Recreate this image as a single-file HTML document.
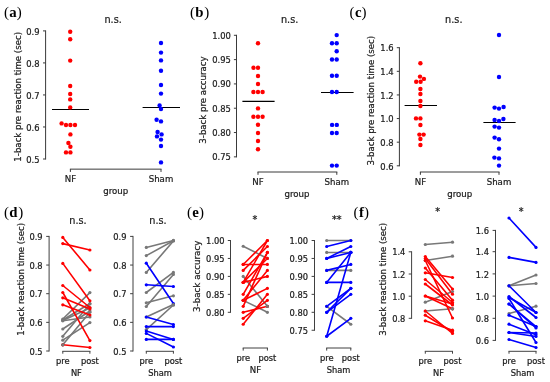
<!DOCTYPE html>
<html><head><meta charset="utf-8"><title>figure</title>
<style>
html,body{margin:0;padding:0;background:#fff;}
svg{display:block;}
.t{font-family:"DejaVu Sans","Liberation Sans",sans-serif;fill:#1c1c1c;stroke:#1c1c1c;stroke-width:0.22px;}
.p{font-family:"Liberation Serif","DejaVu Serif",serif;font-weight:bold;fill:#000;}
</style></head><body>
<svg width="550" height="382" viewBox="0 0 550 382">
<rect width="550" height="382" fill="#ffffff"/>
<text class="p" y="16.60"><tspan x="4.00" y="16.50" font-size="15" font-weight="normal">(</tspan><tspan x="9.30" y="16.60" font-size="14.8" font-weight="bold">a</tspan><tspan x="16.80" y="16.50" font-size="15" font-weight="normal">)</tspan></text>
<line x1="45.60" y1="30.40" x2="45.60" y2="159.50" stroke="#3a3a3a" stroke-width="1.0" stroke-linecap="butt"/>
<line x1="43.00" y1="30.90" x2="45.60" y2="30.90" stroke="#3a3a3a" stroke-width="1.0" stroke-linecap="butt"/>
<text class="t" x="39.50" y="34.50" text-anchor="end" font-size="8.4">0.9</text>
<line x1="43.00" y1="62.92" x2="45.60" y2="62.92" stroke="#3a3a3a" stroke-width="1.0" stroke-linecap="butt"/>
<text class="t" x="39.50" y="66.52" text-anchor="end" font-size="8.4">0.8</text>
<line x1="43.00" y1="94.95" x2="45.60" y2="94.95" stroke="#3a3a3a" stroke-width="1.0" stroke-linecap="butt"/>
<text class="t" x="39.50" y="98.55" text-anchor="end" font-size="8.4">0.7</text>
<line x1="43.00" y1="126.97" x2="45.60" y2="126.97" stroke="#3a3a3a" stroke-width="1.0" stroke-linecap="butt"/>
<text class="t" x="39.50" y="130.57" text-anchor="end" font-size="8.4">0.6</text>
<line x1="43.00" y1="159.00" x2="45.60" y2="159.00" stroke="#3a3a3a" stroke-width="1.0" stroke-linecap="butt"/>
<text class="t" x="39.50" y="162.60" text-anchor="end" font-size="8.4">0.5</text>
<line x1="69.90" y1="169.15" x2="161.50" y2="169.15" stroke="#3a3a3a" stroke-width="1.0" stroke-linecap="butt"/>
<line x1="70.40" y1="169.15" x2="70.40" y2="171.95" stroke="#3a3a3a" stroke-width="1.0" stroke-linecap="butt"/>
<text class="t" x="70.40" y="181.60" text-anchor="middle" font-size="8.6">NF</text>
<line x1="161.00" y1="169.15" x2="161.00" y2="171.95" stroke="#3a3a3a" stroke-width="1.0" stroke-linecap="butt"/>
<text class="t" x="161.00" y="181.60" text-anchor="middle" font-size="8.6">Sham</text>
<text class="t" x="115.70" y="193.70" text-anchor="middle" font-size="8.6">group</text>
<text class="t" x="20.60" y="96.80" text-anchor="middle" font-size="8.6" transform="rotate(-90 20.60 96.80)">1-back pre reaction time (sec)</text>
<text class="t" x="113.10" y="22.90" text-anchor="middle" font-size="9.7">n.s.</text>
<line x1="52.00" y1="109.50" x2="89.00" y2="109.50" stroke="#000" stroke-width="1.2" stroke-linecap="butt"/>
<line x1="142.60" y1="107.50" x2="180.00" y2="107.50" stroke="#000" stroke-width="1.2" stroke-linecap="butt"/>
<circle cx="70.20" cy="31.80" r="2.2" fill="#ff0000"/>
<circle cx="70.20" cy="39.20" r="2.2" fill="#ff0000"/>
<circle cx="70.20" cy="60.60" r="2.2" fill="#ff0000"/>
<circle cx="70.20" cy="86.00" r="2.2" fill="#ff0000"/>
<circle cx="70.20" cy="94.00" r="2.2" fill="#ff0000"/>
<circle cx="70.20" cy="99.40" r="2.2" fill="#ff0000"/>
<circle cx="70.20" cy="107.40" r="2.2" fill="#ff0000"/>
<circle cx="61.60" cy="123.40" r="2.2" fill="#ff0000"/>
<circle cx="66.00" cy="125.00" r="2.2" fill="#ff0000"/>
<circle cx="70.40" cy="125.00" r="2.2" fill="#ff0000"/>
<circle cx="75.00" cy="125.00" r="2.2" fill="#ff0000"/>
<circle cx="70.40" cy="134.40" r="2.2" fill="#ff0000"/>
<circle cx="68.40" cy="143.00" r="2.2" fill="#ff0000"/>
<circle cx="70.40" cy="146.80" r="2.2" fill="#ff0000"/>
<circle cx="66.00" cy="152.40" r="2.2" fill="#ff0000"/>
<circle cx="70.40" cy="152.40" r="2.2" fill="#ff0000"/>
<circle cx="161.00" cy="43.00" r="2.2" fill="#0000ff"/>
<circle cx="161.00" cy="52.60" r="2.2" fill="#0000ff"/>
<circle cx="161.00" cy="60.40" r="2.2" fill="#0000ff"/>
<circle cx="161.00" cy="70.80" r="2.2" fill="#0000ff"/>
<circle cx="161.00" cy="85.00" r="2.2" fill="#0000ff"/>
<circle cx="161.00" cy="93.60" r="2.2" fill="#0000ff"/>
<circle cx="159.60" cy="105.40" r="2.2" fill="#0000ff"/>
<circle cx="161.00" cy="109.00" r="2.2" fill="#0000ff"/>
<circle cx="156.60" cy="119.80" r="2.2" fill="#0000ff"/>
<circle cx="161.00" cy="121.40" r="2.2" fill="#0000ff"/>
<circle cx="157.60" cy="132.00" r="2.2" fill="#0000ff"/>
<circle cx="161.60" cy="134.40" r="2.2" fill="#0000ff"/>
<circle cx="157.00" cy="136.40" r="2.2" fill="#0000ff"/>
<circle cx="161.00" cy="139.60" r="2.2" fill="#0000ff"/>
<circle cx="161.00" cy="146.00" r="2.2" fill="#0000ff"/>
<circle cx="161.00" cy="162.40" r="2.2" fill="#0000ff"/>
<text class="p" y="16.60"><tspan x="190.00" y="16.50" font-size="15" font-weight="normal">(</tspan><tspan x="195.30" y="16.60" font-size="14.8" font-weight="bold">b</tspan><tspan x="204.20" y="16.50" font-size="15" font-weight="normal">)</tspan></text>
<line x1="236.50" y1="34.80" x2="236.50" y2="157.35" stroke="#3a3a3a" stroke-width="1.0" stroke-linecap="butt"/>
<line x1="233.90" y1="35.30" x2="236.50" y2="35.30" stroke="#3a3a3a" stroke-width="1.0" stroke-linecap="butt"/>
<text class="t" x="230.80" y="38.60" text-anchor="end" font-size="8.4">1.00</text>
<line x1="233.90" y1="59.61" x2="236.50" y2="59.61" stroke="#3a3a3a" stroke-width="1.0" stroke-linecap="butt"/>
<text class="t" x="230.80" y="62.91" text-anchor="end" font-size="8.4">0.95</text>
<line x1="233.90" y1="83.92" x2="236.50" y2="83.92" stroke="#3a3a3a" stroke-width="1.0" stroke-linecap="butt"/>
<text class="t" x="230.80" y="87.22" text-anchor="end" font-size="8.4">0.90</text>
<line x1="233.90" y1="108.23" x2="236.50" y2="108.23" stroke="#3a3a3a" stroke-width="1.0" stroke-linecap="butt"/>
<text class="t" x="230.80" y="111.53" text-anchor="end" font-size="8.4">0.85</text>
<line x1="233.90" y1="132.54" x2="236.50" y2="132.54" stroke="#3a3a3a" stroke-width="1.0" stroke-linecap="butt"/>
<text class="t" x="230.80" y="135.84" text-anchor="end" font-size="8.4">0.80</text>
<line x1="233.90" y1="156.85" x2="236.50" y2="156.85" stroke="#3a3a3a" stroke-width="1.0" stroke-linecap="butt"/>
<text class="t" x="230.80" y="160.15" text-anchor="end" font-size="8.4">0.75</text>
<line x1="257.50" y1="172.00" x2="337.30" y2="172.00" stroke="#3a3a3a" stroke-width="1.0" stroke-linecap="butt"/>
<line x1="258.00" y1="172.00" x2="258.00" y2="174.80" stroke="#3a3a3a" stroke-width="1.0" stroke-linecap="butt"/>
<text class="t" x="258.00" y="184.80" text-anchor="middle" font-size="8.6">NF</text>
<line x1="336.80" y1="172.00" x2="336.80" y2="174.80" stroke="#3a3a3a" stroke-width="1.0" stroke-linecap="butt"/>
<text class="t" x="336.80" y="184.80" text-anchor="middle" font-size="8.6">Sham</text>
<text class="t" x="297.00" y="197.20" text-anchor="middle" font-size="8.6">group</text>
<text class="t" x="205.80" y="100.00" text-anchor="middle" font-size="8.6" transform="rotate(-90 205.80 100.00)">3-back pre accuracy</text>
<text class="t" x="289.60" y="22.90" text-anchor="middle" font-size="9.7">n.s.</text>
<line x1="242.40" y1="101.40" x2="274.60" y2="101.40" stroke="#000" stroke-width="1.2" stroke-linecap="butt"/>
<line x1="321.00" y1="92.50" x2="353.60" y2="92.50" stroke="#000" stroke-width="1.2" stroke-linecap="butt"/>
<circle cx="258.00" cy="43.20" r="2.2" fill="#ff0000"/>
<circle cx="253.50" cy="67.80" r="2.2" fill="#ff0000"/>
<circle cx="258.00" cy="67.80" r="2.2" fill="#ff0000"/>
<circle cx="258.00" cy="76.00" r="2.2" fill="#ff0000"/>
<circle cx="258.00" cy="84.00" r="2.2" fill="#ff0000"/>
<circle cx="253.40" cy="92.00" r="2.2" fill="#ff0000"/>
<circle cx="258.00" cy="92.00" r="2.2" fill="#ff0000"/>
<circle cx="262.60" cy="92.00" r="2.2" fill="#ff0000"/>
<circle cx="258.00" cy="108.40" r="2.2" fill="#ff0000"/>
<circle cx="253.40" cy="116.80" r="2.2" fill="#ff0000"/>
<circle cx="258.00" cy="116.80" r="2.2" fill="#ff0000"/>
<circle cx="262.60" cy="116.80" r="2.2" fill="#ff0000"/>
<circle cx="258.00" cy="124.80" r="2.2" fill="#ff0000"/>
<circle cx="258.00" cy="133.00" r="2.2" fill="#ff0000"/>
<circle cx="258.00" cy="141.00" r="2.2" fill="#ff0000"/>
<circle cx="258.00" cy="149.20" r="2.2" fill="#ff0000"/>
<circle cx="336.70" cy="35.10" r="2.2" fill="#0000ff"/>
<circle cx="332.00" cy="43.20" r="2.2" fill="#0000ff"/>
<circle cx="336.70" cy="43.20" r="2.2" fill="#0000ff"/>
<circle cx="336.70" cy="51.30" r="2.2" fill="#0000ff"/>
<circle cx="332.00" cy="59.50" r="2.2" fill="#0000ff"/>
<circle cx="336.70" cy="59.50" r="2.2" fill="#0000ff"/>
<circle cx="332.00" cy="75.80" r="2.2" fill="#0000ff"/>
<circle cx="336.70" cy="75.80" r="2.2" fill="#0000ff"/>
<circle cx="332.00" cy="92.00" r="2.2" fill="#0000ff"/>
<circle cx="336.70" cy="92.00" r="2.2" fill="#0000ff"/>
<circle cx="332.10" cy="124.90" r="2.2" fill="#0000ff"/>
<circle cx="336.80" cy="124.90" r="2.2" fill="#0000ff"/>
<circle cx="332.00" cy="133.00" r="2.2" fill="#0000ff"/>
<circle cx="336.70" cy="133.00" r="2.2" fill="#0000ff"/>
<circle cx="332.00" cy="165.60" r="2.2" fill="#0000ff"/>
<circle cx="336.70" cy="165.60" r="2.2" fill="#0000ff"/>
<text class="p" y="16.60"><tspan x="349.60" y="16.50" font-size="15" font-weight="normal">(</tspan><tspan x="354.90" y="16.60" font-size="14.8" font-weight="bold">c</tspan><tspan x="361.60" y="16.50" font-size="15" font-weight="normal">)</tspan></text>
<line x1="399.40" y1="47.20" x2="399.40" y2="166.30" stroke="#3a3a3a" stroke-width="1.0" stroke-linecap="butt"/>
<line x1="396.80" y1="47.70" x2="399.40" y2="47.70" stroke="#3a3a3a" stroke-width="1.0" stroke-linecap="butt"/>
<text class="t" x="393.70" y="51.40" text-anchor="end" font-size="8.4">1.6</text>
<line x1="396.80" y1="71.32" x2="399.40" y2="71.32" stroke="#3a3a3a" stroke-width="1.0" stroke-linecap="butt"/>
<text class="t" x="393.70" y="75.02" text-anchor="end" font-size="8.4">1.4</text>
<line x1="396.80" y1="94.94" x2="399.40" y2="94.94" stroke="#3a3a3a" stroke-width="1.0" stroke-linecap="butt"/>
<text class="t" x="393.70" y="98.64" text-anchor="end" font-size="8.4">1.2</text>
<line x1="396.80" y1="118.56" x2="399.40" y2="118.56" stroke="#3a3a3a" stroke-width="1.0" stroke-linecap="butt"/>
<text class="t" x="393.70" y="122.26" text-anchor="end" font-size="8.4">1.0</text>
<line x1="396.80" y1="142.18" x2="399.40" y2="142.18" stroke="#3a3a3a" stroke-width="1.0" stroke-linecap="butt"/>
<text class="t" x="393.70" y="145.88" text-anchor="end" font-size="8.4">0.8</text>
<line x1="396.80" y1="165.80" x2="399.40" y2="165.80" stroke="#3a3a3a" stroke-width="1.0" stroke-linecap="butt"/>
<text class="t" x="393.70" y="169.50" text-anchor="end" font-size="8.4">0.6</text>
<line x1="419.90" y1="172.00" x2="499.50" y2="172.00" stroke="#3a3a3a" stroke-width="1.0" stroke-linecap="butt"/>
<line x1="420.40" y1="172.00" x2="420.40" y2="174.80" stroke="#3a3a3a" stroke-width="1.0" stroke-linecap="butt"/>
<text class="t" x="420.40" y="184.80" text-anchor="middle" font-size="8.6">NF</text>
<line x1="499.00" y1="172.00" x2="499.00" y2="174.80" stroke="#3a3a3a" stroke-width="1.0" stroke-linecap="butt"/>
<text class="t" x="499.00" y="184.80" text-anchor="middle" font-size="8.6">Sham</text>
<text class="t" x="459.80" y="197.20" text-anchor="middle" font-size="8.6">group</text>
<text class="t" x="373.70" y="100.70" text-anchor="middle" font-size="8.6" transform="rotate(-90 373.70 100.70)">3-back pre reaction time (sec)</text>
<text class="t" x="453.80" y="22.90" text-anchor="middle" font-size="9.7">n.s.</text>
<line x1="404.60" y1="105.50" x2="437.00" y2="105.50" stroke="#000" stroke-width="1.2" stroke-linecap="butt"/>
<line x1="483.40" y1="122.50" x2="515.60" y2="122.50" stroke="#000" stroke-width="1.2" stroke-linecap="butt"/>
<circle cx="420.40" cy="63.30" r="2.2" fill="#ff0000"/>
<circle cx="420.00" cy="76.60" r="2.2" fill="#ff0000"/>
<circle cx="423.90" cy="78.90" r="2.2" fill="#ff0000"/>
<circle cx="416.20" cy="81.70" r="2.2" fill="#ff0000"/>
<circle cx="420.60" cy="81.80" r="2.2" fill="#ff0000"/>
<circle cx="420.40" cy="89.00" r="2.2" fill="#ff0000"/>
<circle cx="420.40" cy="94.00" r="2.2" fill="#ff0000"/>
<circle cx="420.40" cy="101.00" r="2.2" fill="#ff0000"/>
<circle cx="420.40" cy="106.00" r="2.2" fill="#ff0000"/>
<circle cx="416.00" cy="118.40" r="2.2" fill="#ff0000"/>
<circle cx="420.40" cy="118.40" r="2.2" fill="#ff0000"/>
<circle cx="420.40" cy="125.00" r="2.2" fill="#ff0000"/>
<circle cx="419.40" cy="134.60" r="2.2" fill="#ff0000"/>
<circle cx="423.60" cy="134.60" r="2.2" fill="#ff0000"/>
<circle cx="420.40" cy="139.00" r="2.2" fill="#ff0000"/>
<circle cx="420.40" cy="145.00" r="2.2" fill="#ff0000"/>
<circle cx="499.00" cy="35.00" r="2.2" fill="#0000ff"/>
<circle cx="499.00" cy="77.00" r="2.2" fill="#0000ff"/>
<circle cx="494.60" cy="107.60" r="2.2" fill="#0000ff"/>
<circle cx="499.00" cy="108.60" r="2.2" fill="#0000ff"/>
<circle cx="503.60" cy="107.00" r="2.2" fill="#0000ff"/>
<circle cx="494.60" cy="120.00" r="2.2" fill="#0000ff"/>
<circle cx="499.00" cy="121.00" r="2.2" fill="#0000ff"/>
<circle cx="503.40" cy="119.00" r="2.2" fill="#0000ff"/>
<circle cx="494.60" cy="126.60" r="2.2" fill="#0000ff"/>
<circle cx="499.00" cy="127.60" r="2.2" fill="#0000ff"/>
<circle cx="494.60" cy="137.60" r="2.2" fill="#0000ff"/>
<circle cx="499.00" cy="139.20" r="2.2" fill="#0000ff"/>
<circle cx="499.00" cy="148.60" r="2.2" fill="#0000ff"/>
<circle cx="494.40" cy="157.60" r="2.2" fill="#0000ff"/>
<circle cx="499.00" cy="158.40" r="2.2" fill="#0000ff"/>
<circle cx="499.00" cy="165.60" r="2.2" fill="#0000ff"/>
<text class="p" y="217.10"><tspan x="4.00" y="217.00" font-size="15" font-weight="normal">(</tspan><tspan x="9.30" y="217.10" font-size="14.8" font-weight="bold">d</tspan><tspan x="18.20" y="217.00" font-size="15" font-weight="normal">)</tspan></text>
<text class="t" x="24.00" y="279.40" text-anchor="middle" font-size="8.6" transform="rotate(-90 24.00 279.40)">1-back reaction time (sec)</text>
<line x1="49.10" y1="235.90" x2="49.10" y2="351.50" stroke="#404040" stroke-width="1.0" stroke-linecap="butt"/>
<line x1="46.20" y1="236.40" x2="49.10" y2="236.40" stroke="#404040" stroke-width="1.0" stroke-linecap="butt"/>
<text class="t" x="42.60" y="240.00" text-anchor="end" font-size="8.3">0.9</text>
<line x1="46.20" y1="265.05" x2="49.10" y2="265.05" stroke="#404040" stroke-width="1.0" stroke-linecap="butt"/>
<text class="t" x="42.60" y="268.65" text-anchor="end" font-size="8.3">0.8</text>
<line x1="46.20" y1="293.70" x2="49.10" y2="293.70" stroke="#404040" stroke-width="1.0" stroke-linecap="butt"/>
<text class="t" x="42.60" y="297.30" text-anchor="end" font-size="8.3">0.7</text>
<line x1="46.20" y1="322.35" x2="49.10" y2="322.35" stroke="#404040" stroke-width="1.0" stroke-linecap="butt"/>
<text class="t" x="42.60" y="325.95" text-anchor="end" font-size="8.3">0.6</text>
<line x1="46.20" y1="351.00" x2="49.10" y2="351.00" stroke="#404040" stroke-width="1.0" stroke-linecap="butt"/>
<text class="t" x="42.60" y="354.60" text-anchor="end" font-size="8.3">0.5</text>
<line x1="62.30" y1="351.30" x2="90.40" y2="351.30" stroke="#404040" stroke-width="1.0" stroke-linecap="butt"/>
<line x1="62.80" y1="351.30" x2="62.80" y2="353.70" stroke="#404040" stroke-width="1.0" stroke-linecap="butt"/>
<text class="t" x="62.80" y="364.00" text-anchor="middle" font-size="8.3">pre</text>
<line x1="89.90" y1="351.30" x2="89.90" y2="353.70" stroke="#404040" stroke-width="1.0" stroke-linecap="butt"/>
<text class="t" x="89.90" y="364.00" text-anchor="middle" font-size="8.3">post</text>
<text class="t" x="76.40" y="375.60" text-anchor="middle" font-size="8.3">NF</text>
<text class="t" x="78.00" y="224.20" text-anchor="middle" font-size="9.7">n.s.</text>
<line x1="62.80" y1="319.00" x2="89.90" y2="292.60" stroke="#787878" stroke-width="1.6" stroke-linecap="round"/>
<line x1="62.80" y1="320.00" x2="89.90" y2="303.50" stroke="#787878" stroke-width="1.6" stroke-linecap="round"/>
<line x1="62.80" y1="320.50" x2="89.90" y2="308.00" stroke="#787878" stroke-width="1.6" stroke-linecap="round"/>
<line x1="62.80" y1="320.80" x2="89.90" y2="317.00" stroke="#787878" stroke-width="1.6" stroke-linecap="round"/>
<line x1="62.80" y1="329.00" x2="89.90" y2="311.00" stroke="#787878" stroke-width="1.6" stroke-linecap="round"/>
<line x1="62.80" y1="336.30" x2="89.90" y2="304.00" stroke="#787878" stroke-width="1.6" stroke-linecap="round"/>
<line x1="62.80" y1="340.20" x2="89.90" y2="322.60" stroke="#787878" stroke-width="1.6" stroke-linecap="round"/>
<line x1="62.80" y1="344.80" x2="89.90" y2="312.20" stroke="#787878" stroke-width="1.6" stroke-linecap="round"/>
<line x1="62.80" y1="237.40" x2="89.90" y2="270.00" stroke="#ff0000" stroke-width="1.6" stroke-linecap="round"/>
<line x1="62.80" y1="243.60" x2="89.90" y2="250.00" stroke="#ff0000" stroke-width="1.6" stroke-linecap="round"/>
<line x1="62.80" y1="263.40" x2="89.90" y2="300.80" stroke="#ff0000" stroke-width="1.6" stroke-linecap="round"/>
<line x1="62.80" y1="285.50" x2="89.90" y2="307.50" stroke="#ff0000" stroke-width="1.6" stroke-linecap="round"/>
<line x1="62.80" y1="292.50" x2="89.90" y2="340.60" stroke="#ff0000" stroke-width="1.6" stroke-linecap="round"/>
<line x1="62.80" y1="297.80" x2="89.90" y2="309.00" stroke="#ff0000" stroke-width="1.6" stroke-linecap="round"/>
<line x1="62.80" y1="304.80" x2="89.90" y2="315.00" stroke="#ff0000" stroke-width="1.6" stroke-linecap="round"/>
<line x1="62.80" y1="344.80" x2="89.90" y2="347.50" stroke="#ff0000" stroke-width="1.6" stroke-linecap="round"/>
<circle cx="62.80" cy="319.00" r="1.6" fill="#787878"/>
<circle cx="89.90" cy="292.60" r="1.6" fill="#787878"/>
<circle cx="62.80" cy="320.00" r="1.6" fill="#787878"/>
<circle cx="89.90" cy="303.50" r="1.6" fill="#787878"/>
<circle cx="62.80" cy="320.50" r="1.6" fill="#787878"/>
<circle cx="89.90" cy="308.00" r="1.6" fill="#787878"/>
<circle cx="62.80" cy="320.80" r="1.6" fill="#787878"/>
<circle cx="89.90" cy="317.00" r="1.6" fill="#787878"/>
<circle cx="62.80" cy="329.00" r="1.6" fill="#787878"/>
<circle cx="89.90" cy="311.00" r="1.6" fill="#787878"/>
<circle cx="62.80" cy="336.30" r="1.6" fill="#787878"/>
<circle cx="89.90" cy="304.00" r="1.6" fill="#787878"/>
<circle cx="62.80" cy="340.20" r="1.6" fill="#787878"/>
<circle cx="89.90" cy="322.60" r="1.6" fill="#787878"/>
<circle cx="62.80" cy="344.80" r="1.6" fill="#787878"/>
<circle cx="89.90" cy="312.20" r="1.6" fill="#787878"/>
<circle cx="62.80" cy="237.40" r="1.6" fill="#ff0000"/>
<circle cx="89.90" cy="270.00" r="1.6" fill="#ff0000"/>
<circle cx="62.80" cy="243.60" r="1.6" fill="#ff0000"/>
<circle cx="89.90" cy="250.00" r="1.6" fill="#ff0000"/>
<circle cx="62.80" cy="263.40" r="1.6" fill="#ff0000"/>
<circle cx="89.90" cy="300.80" r="1.6" fill="#ff0000"/>
<circle cx="62.80" cy="285.50" r="1.6" fill="#ff0000"/>
<circle cx="89.90" cy="307.50" r="1.6" fill="#ff0000"/>
<circle cx="62.80" cy="292.50" r="1.6" fill="#ff0000"/>
<circle cx="89.90" cy="340.60" r="1.6" fill="#ff0000"/>
<circle cx="62.80" cy="297.80" r="1.6" fill="#ff0000"/>
<circle cx="89.90" cy="309.00" r="1.6" fill="#ff0000"/>
<circle cx="62.80" cy="304.80" r="1.6" fill="#ff0000"/>
<circle cx="89.90" cy="315.00" r="1.6" fill="#ff0000"/>
<circle cx="62.80" cy="344.80" r="1.6" fill="#ff0000"/>
<circle cx="89.90" cy="347.50" r="1.6" fill="#ff0000"/>
<circle cx="62.80" cy="344.80" r="1.6" fill="#787878"/>
<line x1="133.00" y1="235.90" x2="133.00" y2="351.50" stroke="#404040" stroke-width="1.0" stroke-linecap="butt"/>
<line x1="130.10" y1="236.40" x2="133.00" y2="236.40" stroke="#404040" stroke-width="1.0" stroke-linecap="butt"/>
<text class="t" x="126.50" y="240.00" text-anchor="end" font-size="8.3">0.9</text>
<line x1="130.10" y1="265.05" x2="133.00" y2="265.05" stroke="#404040" stroke-width="1.0" stroke-linecap="butt"/>
<text class="t" x="126.50" y="268.65" text-anchor="end" font-size="8.3">0.8</text>
<line x1="130.10" y1="293.70" x2="133.00" y2="293.70" stroke="#404040" stroke-width="1.0" stroke-linecap="butt"/>
<text class="t" x="126.50" y="297.30" text-anchor="end" font-size="8.3">0.7</text>
<line x1="130.10" y1="322.35" x2="133.00" y2="322.35" stroke="#404040" stroke-width="1.0" stroke-linecap="butt"/>
<text class="t" x="126.50" y="325.95" text-anchor="end" font-size="8.3">0.6</text>
<line x1="130.10" y1="351.00" x2="133.00" y2="351.00" stroke="#404040" stroke-width="1.0" stroke-linecap="butt"/>
<text class="t" x="126.50" y="354.60" text-anchor="end" font-size="8.3">0.5</text>
<line x1="145.80" y1="351.30" x2="173.90" y2="351.30" stroke="#404040" stroke-width="1.0" stroke-linecap="butt"/>
<line x1="146.30" y1="351.30" x2="146.30" y2="353.70" stroke="#404040" stroke-width="1.0" stroke-linecap="butt"/>
<text class="t" x="146.30" y="364.00" text-anchor="middle" font-size="8.3">pre</text>
<line x1="173.40" y1="351.30" x2="173.40" y2="353.70" stroke="#404040" stroke-width="1.0" stroke-linecap="butt"/>
<text class="t" x="173.40" y="364.00" text-anchor="middle" font-size="8.3">post</text>
<text class="t" x="160.00" y="375.60" text-anchor="middle" font-size="8.3">Sham</text>
<text class="t" x="158.00" y="224.20" text-anchor="middle" font-size="9.7">n.s.</text>
<line x1="146.30" y1="247.40" x2="173.40" y2="240.40" stroke="#787878" stroke-width="1.6" stroke-linecap="round"/>
<line x1="146.30" y1="255.60" x2="173.40" y2="240.70" stroke="#787878" stroke-width="1.6" stroke-linecap="round"/>
<line x1="146.30" y1="272.40" x2="173.40" y2="241.00" stroke="#787878" stroke-width="1.6" stroke-linecap="round"/>
<line x1="146.30" y1="292.50" x2="173.40" y2="272.40" stroke="#787878" stroke-width="1.6" stroke-linecap="round"/>
<line x1="146.30" y1="302.80" x2="173.40" y2="295.80" stroke="#787878" stroke-width="1.6" stroke-linecap="round"/>
<line x1="146.30" y1="306.50" x2="173.40" y2="274.40" stroke="#787878" stroke-width="1.6" stroke-linecap="round"/>
<line x1="146.30" y1="317.00" x2="173.40" y2="304.50" stroke="#787878" stroke-width="1.6" stroke-linecap="round"/>
<line x1="146.30" y1="329.60" x2="173.40" y2="305.00" stroke="#787878" stroke-width="1.6" stroke-linecap="round"/>
<line x1="146.30" y1="263.20" x2="173.40" y2="303.50" stroke="#0000ff" stroke-width="1.6" stroke-linecap="round"/>
<line x1="146.30" y1="284.80" x2="173.40" y2="286.50" stroke="#0000ff" stroke-width="1.6" stroke-linecap="round"/>
<line x1="146.30" y1="317.00" x2="173.40" y2="324.60" stroke="#0000ff" stroke-width="1.6" stroke-linecap="round"/>
<line x1="146.30" y1="326.60" x2="173.40" y2="326.60" stroke="#0000ff" stroke-width="1.6" stroke-linecap="round"/>
<line x1="146.30" y1="331.00" x2="173.40" y2="339.40" stroke="#0000ff" stroke-width="1.6" stroke-linecap="round"/>
<line x1="146.30" y1="333.40" x2="173.40" y2="347.00" stroke="#0000ff" stroke-width="1.6" stroke-linecap="round"/>
<line x1="146.30" y1="339.40" x2="173.40" y2="339.40" stroke="#0000ff" stroke-width="1.6" stroke-linecap="round"/>
<circle cx="146.30" cy="247.40" r="1.6" fill="#787878"/>
<circle cx="173.40" cy="240.40" r="1.6" fill="#787878"/>
<circle cx="146.30" cy="255.60" r="1.6" fill="#787878"/>
<circle cx="173.40" cy="240.70" r="1.6" fill="#787878"/>
<circle cx="146.30" cy="272.40" r="1.6" fill="#787878"/>
<circle cx="173.40" cy="241.00" r="1.6" fill="#787878"/>
<circle cx="146.30" cy="292.50" r="1.6" fill="#787878"/>
<circle cx="173.40" cy="272.40" r="1.6" fill="#787878"/>
<circle cx="146.30" cy="302.80" r="1.6" fill="#787878"/>
<circle cx="173.40" cy="295.80" r="1.6" fill="#787878"/>
<circle cx="146.30" cy="306.50" r="1.6" fill="#787878"/>
<circle cx="173.40" cy="274.40" r="1.6" fill="#787878"/>
<circle cx="146.30" cy="317.00" r="1.6" fill="#787878"/>
<circle cx="173.40" cy="304.50" r="1.6" fill="#787878"/>
<circle cx="146.30" cy="329.60" r="1.6" fill="#787878"/>
<circle cx="173.40" cy="305.00" r="1.6" fill="#787878"/>
<circle cx="146.30" cy="263.20" r="1.6" fill="#0000ff"/>
<circle cx="173.40" cy="303.50" r="1.6" fill="#0000ff"/>
<circle cx="146.30" cy="284.80" r="1.6" fill="#0000ff"/>
<circle cx="173.40" cy="286.50" r="1.6" fill="#0000ff"/>
<circle cx="146.30" cy="317.00" r="1.6" fill="#0000ff"/>
<circle cx="173.40" cy="324.60" r="1.6" fill="#0000ff"/>
<circle cx="146.30" cy="326.60" r="1.6" fill="#0000ff"/>
<circle cx="173.40" cy="326.60" r="1.6" fill="#0000ff"/>
<circle cx="146.30" cy="331.00" r="1.6" fill="#0000ff"/>
<circle cx="173.40" cy="339.40" r="1.6" fill="#0000ff"/>
<circle cx="146.30" cy="333.40" r="1.6" fill="#0000ff"/>
<circle cx="173.40" cy="347.00" r="1.6" fill="#0000ff"/>
<circle cx="146.30" cy="339.40" r="1.6" fill="#0000ff"/>
<circle cx="173.40" cy="339.40" r="1.6" fill="#0000ff"/>
<circle cx="173.40" cy="304.50" r="1.6" fill="#787878"/>
<circle cx="173.40" cy="305.00" r="1.6" fill="#787878"/>
<text class="p" y="217.10"><tspan x="187.00" y="217.00" font-size="15" font-weight="normal">(</tspan><tspan x="192.30" y="217.10" font-size="14.8" font-weight="bold">e</tspan><tspan x="199.00" y="217.00" font-size="15" font-weight="normal">)</tspan></text>
<text class="t" x="199.80" y="276.30" text-anchor="middle" font-size="8.7" transform="rotate(-90 199.80 276.30)">3-back accuracy</text>
<line x1="230.50" y1="240.00" x2="230.50" y2="312.80" stroke="#404040" stroke-width="1.0" stroke-linecap="butt"/>
<line x1="227.80" y1="240.50" x2="230.50" y2="240.50" stroke="#404040" stroke-width="1.0" stroke-linecap="butt"/>
<text class="t" x="224.60" y="244.10" text-anchor="end" font-size="8.3">1.00</text>
<line x1="227.80" y1="258.45" x2="230.50" y2="258.45" stroke="#404040" stroke-width="1.0" stroke-linecap="butt"/>
<text class="t" x="224.60" y="262.05" text-anchor="end" font-size="8.3">0.95</text>
<line x1="227.80" y1="276.40" x2="230.50" y2="276.40" stroke="#404040" stroke-width="1.0" stroke-linecap="butt"/>
<text class="t" x="224.60" y="280.00" text-anchor="end" font-size="8.3">0.90</text>
<line x1="227.80" y1="294.35" x2="230.50" y2="294.35" stroke="#404040" stroke-width="1.0" stroke-linecap="butt"/>
<text class="t" x="224.60" y="297.95" text-anchor="end" font-size="8.3">0.85</text>
<line x1="227.80" y1="312.30" x2="230.50" y2="312.30" stroke="#404040" stroke-width="1.0" stroke-linecap="butt"/>
<text class="t" x="224.60" y="315.90" text-anchor="end" font-size="8.3">0.80</text>
<line x1="242.70" y1="348.00" x2="267.90" y2="348.00" stroke="#404040" stroke-width="1.0" stroke-linecap="butt"/>
<line x1="243.20" y1="348.00" x2="243.20" y2="350.60" stroke="#404040" stroke-width="1.0" stroke-linecap="butt"/>
<text class="t" x="243.20" y="361.00" text-anchor="middle" font-size="8.3">pre</text>
<line x1="267.40" y1="348.00" x2="267.40" y2="350.60" stroke="#404040" stroke-width="1.0" stroke-linecap="butt"/>
<text class="t" x="267.40" y="361.00" text-anchor="middle" font-size="8.3">post</text>
<text class="t" x="255.40" y="372.60" text-anchor="middle" font-size="8.6">NF</text>
<text class="t" x="254.80" y="223.40" text-anchor="middle" font-size="9.7">*</text>
<line x1="243.20" y1="246.24" x2="267.40" y2="258.45" stroke="#787878" stroke-width="1.6" stroke-linecap="round"/>
<line x1="243.20" y1="276.40" x2="267.40" y2="306.30" stroke="#787878" stroke-width="1.6" stroke-linecap="round"/>
<line x1="243.20" y1="300.35" x2="267.40" y2="312.30" stroke="#787878" stroke-width="1.6" stroke-linecap="round"/>
<line x1="243.20" y1="264.45" x2="267.40" y2="240.50" stroke="#ff0000" stroke-width="1.6" stroke-linecap="round"/>
<line x1="243.20" y1="264.45" x2="267.40" y2="264.45" stroke="#ff0000" stroke-width="1.6" stroke-linecap="round"/>
<line x1="243.20" y1="270.40" x2="267.40" y2="246.50" stroke="#ff0000" stroke-width="1.6" stroke-linecap="round"/>
<line x1="243.20" y1="282.40" x2="267.40" y2="240.50" stroke="#ff0000" stroke-width="1.6" stroke-linecap="round"/>
<line x1="243.20" y1="282.40" x2="267.40" y2="276.40" stroke="#ff0000" stroke-width="1.6" stroke-linecap="round"/>
<line x1="243.20" y1="282.40" x2="267.40" y2="258.45" stroke="#ff0000" stroke-width="1.6" stroke-linecap="round"/>
<line x1="243.20" y1="294.35" x2="267.40" y2="252.45" stroke="#ff0000" stroke-width="1.6" stroke-linecap="round"/>
<line x1="243.20" y1="300.35" x2="267.40" y2="288.35" stroke="#ff0000" stroke-width="1.6" stroke-linecap="round"/>
<line x1="243.20" y1="300.35" x2="267.40" y2="270.40" stroke="#ff0000" stroke-width="1.6" stroke-linecap="round"/>
<line x1="243.20" y1="306.30" x2="267.40" y2="252.45" stroke="#ff0000" stroke-width="1.6" stroke-linecap="round"/>
<line x1="243.20" y1="312.30" x2="267.40" y2="306.30" stroke="#ff0000" stroke-width="1.6" stroke-linecap="round"/>
<line x1="243.20" y1="318.30" x2="267.40" y2="300.35" stroke="#ff0000" stroke-width="1.6" stroke-linecap="round"/>
<line x1="243.20" y1="324.25" x2="267.40" y2="294.35" stroke="#ff0000" stroke-width="1.6" stroke-linecap="round"/>
<circle cx="243.20" cy="246.24" r="1.6" fill="#787878"/>
<circle cx="267.40" cy="258.45" r="1.6" fill="#787878"/>
<circle cx="243.20" cy="276.40" r="1.6" fill="#787878"/>
<circle cx="267.40" cy="306.30" r="1.6" fill="#787878"/>
<circle cx="243.20" cy="300.35" r="1.6" fill="#787878"/>
<circle cx="267.40" cy="312.30" r="1.6" fill="#787878"/>
<circle cx="243.20" cy="264.45" r="1.6" fill="#ff0000"/>
<circle cx="267.40" cy="240.50" r="1.6" fill="#ff0000"/>
<circle cx="243.20" cy="264.45" r="1.6" fill="#ff0000"/>
<circle cx="267.40" cy="264.45" r="1.6" fill="#ff0000"/>
<circle cx="243.20" cy="270.40" r="1.6" fill="#ff0000"/>
<circle cx="267.40" cy="246.50" r="1.6" fill="#ff0000"/>
<circle cx="243.20" cy="282.40" r="1.6" fill="#ff0000"/>
<circle cx="267.40" cy="240.50" r="1.6" fill="#ff0000"/>
<circle cx="243.20" cy="282.40" r="1.6" fill="#ff0000"/>
<circle cx="267.40" cy="276.40" r="1.6" fill="#ff0000"/>
<circle cx="243.20" cy="282.40" r="1.6" fill="#ff0000"/>
<circle cx="267.40" cy="258.45" r="1.6" fill="#ff0000"/>
<circle cx="243.20" cy="294.35" r="1.6" fill="#ff0000"/>
<circle cx="267.40" cy="252.45" r="1.6" fill="#ff0000"/>
<circle cx="243.20" cy="300.35" r="1.6" fill="#ff0000"/>
<circle cx="267.40" cy="288.35" r="1.6" fill="#ff0000"/>
<circle cx="243.20" cy="300.35" r="1.6" fill="#ff0000"/>
<circle cx="267.40" cy="270.40" r="1.6" fill="#ff0000"/>
<circle cx="243.20" cy="306.30" r="1.6" fill="#ff0000"/>
<circle cx="267.40" cy="252.45" r="1.6" fill="#ff0000"/>
<circle cx="243.20" cy="312.30" r="1.6" fill="#ff0000"/>
<circle cx="267.40" cy="306.30" r="1.6" fill="#ff0000"/>
<circle cx="243.20" cy="318.30" r="1.6" fill="#ff0000"/>
<circle cx="267.40" cy="300.35" r="1.6" fill="#ff0000"/>
<circle cx="243.20" cy="324.25" r="1.6" fill="#ff0000"/>
<circle cx="267.40" cy="294.35" r="1.6" fill="#ff0000"/>
<circle cx="267.40" cy="306.30" r="1.6" fill="#787878"/>
<line x1="314.50" y1="240.00" x2="314.50" y2="330.75" stroke="#404040" stroke-width="1.0" stroke-linecap="butt"/>
<line x1="311.60" y1="240.50" x2="314.50" y2="240.50" stroke="#404040" stroke-width="1.0" stroke-linecap="butt"/>
<text class="t" x="308.00" y="244.10" text-anchor="end" font-size="8.3">1.00</text>
<line x1="311.60" y1="258.45" x2="314.50" y2="258.45" stroke="#404040" stroke-width="1.0" stroke-linecap="butt"/>
<text class="t" x="308.00" y="262.05" text-anchor="end" font-size="8.3">0.95</text>
<line x1="311.60" y1="276.40" x2="314.50" y2="276.40" stroke="#404040" stroke-width="1.0" stroke-linecap="butt"/>
<text class="t" x="308.00" y="280.00" text-anchor="end" font-size="8.3">0.90</text>
<line x1="311.60" y1="294.35" x2="314.50" y2="294.35" stroke="#404040" stroke-width="1.0" stroke-linecap="butt"/>
<text class="t" x="308.00" y="297.95" text-anchor="end" font-size="8.3">0.85</text>
<line x1="311.60" y1="312.30" x2="314.50" y2="312.30" stroke="#404040" stroke-width="1.0" stroke-linecap="butt"/>
<text class="t" x="308.00" y="315.90" text-anchor="end" font-size="8.3">0.80</text>
<line x1="311.60" y1="330.25" x2="314.50" y2="330.25" stroke="#404040" stroke-width="1.0" stroke-linecap="butt"/>
<text class="t" x="308.00" y="333.85" text-anchor="end" font-size="8.3">0.75</text>
<line x1="326.20" y1="348.00" x2="351.30" y2="348.00" stroke="#404040" stroke-width="1.0" stroke-linecap="butt"/>
<line x1="326.70" y1="348.00" x2="326.70" y2="350.60" stroke="#404040" stroke-width="1.0" stroke-linecap="butt"/>
<text class="t" x="326.70" y="361.00" text-anchor="middle" font-size="8.3">pre</text>
<line x1="350.80" y1="348.00" x2="350.80" y2="350.60" stroke="#404040" stroke-width="1.0" stroke-linecap="butt"/>
<text class="t" x="350.80" y="361.00" text-anchor="middle" font-size="8.3">post</text>
<text class="t" x="338.60" y="372.60" text-anchor="middle" font-size="8.3">Sham</text>
<text class="t" x="336.80" y="223.40" text-anchor="middle" font-size="9.7">**</text>
<line x1="326.70" y1="240.50" x2="350.80" y2="240.50" stroke="#787878" stroke-width="1.6" stroke-linecap="round"/>
<line x1="326.70" y1="252.45" x2="350.80" y2="252.45" stroke="#787878" stroke-width="1.6" stroke-linecap="round"/>
<line x1="326.70" y1="270.40" x2="350.80" y2="270.40" stroke="#787878" stroke-width="1.6" stroke-linecap="round"/>
<line x1="326.70" y1="306.30" x2="350.80" y2="324.25" stroke="#787878" stroke-width="1.6" stroke-linecap="round"/>
<line x1="326.70" y1="246.50" x2="350.80" y2="240.50" stroke="#0000ff" stroke-width="1.6" stroke-linecap="round"/>
<line x1="326.70" y1="258.45" x2="350.80" y2="246.50" stroke="#0000ff" stroke-width="1.6" stroke-linecap="round"/>
<line x1="326.70" y1="258.45" x2="350.80" y2="252.45" stroke="#0000ff" stroke-width="1.6" stroke-linecap="round"/>
<line x1="326.70" y1="270.40" x2="350.80" y2="264.45" stroke="#0000ff" stroke-width="1.6" stroke-linecap="round"/>
<line x1="326.70" y1="282.40" x2="350.80" y2="282.40" stroke="#0000ff" stroke-width="1.6" stroke-linecap="round"/>
<line x1="326.70" y1="282.40" x2="350.80" y2="252.45" stroke="#0000ff" stroke-width="1.6" stroke-linecap="round"/>
<line x1="326.70" y1="306.30" x2="350.80" y2="288.35" stroke="#0000ff" stroke-width="1.6" stroke-linecap="round"/>
<line x1="326.70" y1="312.30" x2="350.80" y2="288.35" stroke="#0000ff" stroke-width="1.6" stroke-linecap="round"/>
<line x1="326.70" y1="312.30" x2="350.80" y2="294.35" stroke="#0000ff" stroke-width="1.6" stroke-linecap="round"/>
<line x1="326.70" y1="336.25" x2="350.80" y2="318.30" stroke="#0000ff" stroke-width="1.6" stroke-linecap="round"/>
<line x1="326.70" y1="336.25" x2="350.80" y2="252.45" stroke="#0000ff" stroke-width="1.6" stroke-linecap="round"/>
<circle cx="326.70" cy="240.50" r="1.6" fill="#787878"/>
<circle cx="350.80" cy="240.50" r="1.6" fill="#787878"/>
<circle cx="326.70" cy="252.45" r="1.6" fill="#787878"/>
<circle cx="350.80" cy="252.45" r="1.6" fill="#787878"/>
<circle cx="326.70" cy="270.40" r="1.6" fill="#787878"/>
<circle cx="350.80" cy="270.40" r="1.6" fill="#787878"/>
<circle cx="326.70" cy="306.30" r="1.6" fill="#787878"/>
<circle cx="350.80" cy="324.25" r="1.6" fill="#787878"/>
<circle cx="326.70" cy="246.50" r="1.6" fill="#0000ff"/>
<circle cx="350.80" cy="240.50" r="1.6" fill="#0000ff"/>
<circle cx="326.70" cy="258.45" r="1.6" fill="#0000ff"/>
<circle cx="350.80" cy="246.50" r="1.6" fill="#0000ff"/>
<circle cx="326.70" cy="258.45" r="1.6" fill="#0000ff"/>
<circle cx="350.80" cy="252.45" r="1.6" fill="#0000ff"/>
<circle cx="326.70" cy="270.40" r="1.6" fill="#0000ff"/>
<circle cx="350.80" cy="264.45" r="1.6" fill="#0000ff"/>
<circle cx="326.70" cy="282.40" r="1.6" fill="#0000ff"/>
<circle cx="350.80" cy="282.40" r="1.6" fill="#0000ff"/>
<circle cx="326.70" cy="282.40" r="1.6" fill="#0000ff"/>
<circle cx="350.80" cy="252.45" r="1.6" fill="#0000ff"/>
<circle cx="326.70" cy="306.30" r="1.6" fill="#0000ff"/>
<circle cx="350.80" cy="288.35" r="1.6" fill="#0000ff"/>
<circle cx="326.70" cy="312.30" r="1.6" fill="#0000ff"/>
<circle cx="350.80" cy="288.35" r="1.6" fill="#0000ff"/>
<circle cx="326.70" cy="312.30" r="1.6" fill="#0000ff"/>
<circle cx="350.80" cy="294.35" r="1.6" fill="#0000ff"/>
<circle cx="326.70" cy="336.25" r="1.6" fill="#0000ff"/>
<circle cx="350.80" cy="318.30" r="1.6" fill="#0000ff"/>
<circle cx="326.70" cy="336.25" r="1.6" fill="#0000ff"/>
<circle cx="350.80" cy="252.45" r="1.6" fill="#0000ff"/>
<text class="p" y="217.10"><tspan x="353.60" y="217.00" font-size="15" font-weight="normal">(</tspan><tspan x="358.90" y="217.10" font-size="14.8" font-weight="bold">f</tspan><tspan x="364.00" y="217.00" font-size="15" font-weight="normal">)</tspan></text>
<text class="t" x="386.50" y="279.30" text-anchor="middle" font-size="8.6" transform="rotate(-90 386.50 279.30)">3-back reaction time (sec)</text>
<line x1="411.60" y1="251.30" x2="411.60" y2="318.80" stroke="#404040" stroke-width="1.0" stroke-linecap="butt"/>
<line x1="408.70" y1="251.80" x2="411.60" y2="251.80" stroke="#404040" stroke-width="1.0" stroke-linecap="butt"/>
<text class="t" x="405.40" y="255.40" text-anchor="end" font-size="8.3">1.4</text>
<line x1="408.70" y1="274.00" x2="411.60" y2="274.00" stroke="#404040" stroke-width="1.0" stroke-linecap="butt"/>
<text class="t" x="405.40" y="277.60" text-anchor="end" font-size="8.3">1.2</text>
<line x1="408.70" y1="296.20" x2="411.60" y2="296.20" stroke="#404040" stroke-width="1.0" stroke-linecap="butt"/>
<text class="t" x="405.40" y="299.80" text-anchor="end" font-size="8.3">1.0</text>
<line x1="408.70" y1="318.30" x2="411.60" y2="318.30" stroke="#404040" stroke-width="1.0" stroke-linecap="butt"/>
<text class="t" x="405.40" y="321.90" text-anchor="end" font-size="8.3">0.8</text>
<line x1="424.80" y1="351.30" x2="453.00" y2="351.30" stroke="#404040" stroke-width="1.0" stroke-linecap="butt"/>
<line x1="425.30" y1="351.30" x2="425.30" y2="353.70" stroke="#404040" stroke-width="1.0" stroke-linecap="butt"/>
<text class="t" x="425.30" y="364.00" text-anchor="middle" font-size="8.3">pre</text>
<line x1="452.50" y1="351.30" x2="452.50" y2="353.70" stroke="#404040" stroke-width="1.0" stroke-linecap="butt"/>
<text class="t" x="452.50" y="364.00" text-anchor="middle" font-size="8.3">post</text>
<text class="t" x="438.60" y="375.60" text-anchor="middle" font-size="8.3">NF</text>
<text class="t" x="437.60" y="214.60" text-anchor="middle" font-size="9.7">*</text>
<line x1="425.30" y1="244.50" x2="452.50" y2="242.20" stroke="#787878" stroke-width="1.6" stroke-linecap="round"/>
<line x1="425.30" y1="260.50" x2="452.50" y2="256.20" stroke="#787878" stroke-width="1.6" stroke-linecap="round"/>
<line x1="425.30" y1="302.20" x2="452.50" y2="291.50" stroke="#787878" stroke-width="1.6" stroke-linecap="round"/>
<line x1="425.30" y1="311.00" x2="452.50" y2="308.80" stroke="#787878" stroke-width="1.6" stroke-linecap="round"/>
<line x1="425.30" y1="256.50" x2="452.50" y2="289.00" stroke="#ff0000" stroke-width="1.6" stroke-linecap="round"/>
<line x1="425.30" y1="258.50" x2="452.50" y2="294.20" stroke="#ff0000" stroke-width="1.6" stroke-linecap="round"/>
<line x1="425.30" y1="260.50" x2="452.50" y2="318.00" stroke="#ff0000" stroke-width="1.6" stroke-linecap="round"/>
<line x1="425.30" y1="268.00" x2="452.50" y2="300.20" stroke="#ff0000" stroke-width="1.6" stroke-linecap="round"/>
<line x1="425.30" y1="272.80" x2="452.50" y2="277.50" stroke="#ff0000" stroke-width="1.6" stroke-linecap="round"/>
<line x1="425.30" y1="279.50" x2="452.50" y2="302.50" stroke="#ff0000" stroke-width="1.6" stroke-linecap="round"/>
<line x1="425.30" y1="284.00" x2="452.50" y2="305.00" stroke="#ff0000" stroke-width="1.6" stroke-linecap="round"/>
<line x1="425.30" y1="296.00" x2="452.50" y2="308.80" stroke="#ff0000" stroke-width="1.6" stroke-linecap="round"/>
<line x1="425.30" y1="296.00" x2="452.50" y2="304.00" stroke="#ff0000" stroke-width="1.6" stroke-linecap="round"/>
<line x1="425.30" y1="311.00" x2="452.50" y2="333.50" stroke="#ff0000" stroke-width="1.6" stroke-linecap="round"/>
<line x1="425.30" y1="315.20" x2="452.50" y2="331.80" stroke="#ff0000" stroke-width="1.6" stroke-linecap="round"/>
<line x1="425.30" y1="320.80" x2="452.50" y2="330.20" stroke="#ff0000" stroke-width="1.6" stroke-linecap="round"/>
<circle cx="425.30" cy="244.50" r="1.6" fill="#787878"/>
<circle cx="452.50" cy="242.20" r="1.6" fill="#787878"/>
<circle cx="425.30" cy="260.50" r="1.6" fill="#787878"/>
<circle cx="452.50" cy="256.20" r="1.6" fill="#787878"/>
<circle cx="425.30" cy="302.20" r="1.6" fill="#787878"/>
<circle cx="452.50" cy="291.50" r="1.6" fill="#787878"/>
<circle cx="425.30" cy="311.00" r="1.6" fill="#787878"/>
<circle cx="452.50" cy="308.80" r="1.6" fill="#787878"/>
<circle cx="425.30" cy="256.50" r="1.6" fill="#ff0000"/>
<circle cx="452.50" cy="289.00" r="1.6" fill="#ff0000"/>
<circle cx="425.30" cy="258.50" r="1.6" fill="#ff0000"/>
<circle cx="452.50" cy="294.20" r="1.6" fill="#ff0000"/>
<circle cx="425.30" cy="260.50" r="1.6" fill="#ff0000"/>
<circle cx="452.50" cy="318.00" r="1.6" fill="#ff0000"/>
<circle cx="425.30" cy="268.00" r="1.6" fill="#ff0000"/>
<circle cx="452.50" cy="300.20" r="1.6" fill="#ff0000"/>
<circle cx="425.30" cy="272.80" r="1.6" fill="#ff0000"/>
<circle cx="452.50" cy="277.50" r="1.6" fill="#ff0000"/>
<circle cx="425.30" cy="279.50" r="1.6" fill="#ff0000"/>
<circle cx="452.50" cy="302.50" r="1.6" fill="#ff0000"/>
<circle cx="425.30" cy="284.00" r="1.6" fill="#ff0000"/>
<circle cx="452.50" cy="305.00" r="1.6" fill="#ff0000"/>
<circle cx="425.30" cy="296.00" r="1.6" fill="#ff0000"/>
<circle cx="452.50" cy="308.80" r="1.6" fill="#ff0000"/>
<circle cx="425.30" cy="296.00" r="1.6" fill="#ff0000"/>
<circle cx="452.50" cy="304.00" r="1.6" fill="#ff0000"/>
<circle cx="425.30" cy="311.00" r="1.6" fill="#ff0000"/>
<circle cx="452.50" cy="333.50" r="1.6" fill="#ff0000"/>
<circle cx="425.30" cy="315.20" r="1.6" fill="#ff0000"/>
<circle cx="452.50" cy="331.80" r="1.6" fill="#ff0000"/>
<circle cx="425.30" cy="320.80" r="1.6" fill="#ff0000"/>
<circle cx="452.50" cy="330.20" r="1.6" fill="#ff0000"/>
<circle cx="452.50" cy="308.80" r="1.6" fill="#787878"/>
<line x1="495.50" y1="229.90" x2="495.50" y2="340.90" stroke="#404040" stroke-width="1.0" stroke-linecap="butt"/>
<line x1="492.60" y1="230.40" x2="495.50" y2="230.40" stroke="#404040" stroke-width="1.0" stroke-linecap="butt"/>
<text class="t" x="489.00" y="234.00" text-anchor="end" font-size="8.3">1.6</text>
<line x1="492.60" y1="251.70" x2="495.50" y2="251.70" stroke="#404040" stroke-width="1.0" stroke-linecap="butt"/>
<text class="t" x="489.00" y="255.30" text-anchor="end" font-size="8.3">1.4</text>
<line x1="492.60" y1="273.90" x2="495.50" y2="273.90" stroke="#404040" stroke-width="1.0" stroke-linecap="butt"/>
<text class="t" x="489.00" y="277.50" text-anchor="end" font-size="8.3">1.2</text>
<line x1="492.60" y1="296.10" x2="495.50" y2="296.10" stroke="#404040" stroke-width="1.0" stroke-linecap="butt"/>
<text class="t" x="489.00" y="299.70" text-anchor="end" font-size="8.3">1.0</text>
<line x1="492.60" y1="318.30" x2="495.50" y2="318.30" stroke="#404040" stroke-width="1.0" stroke-linecap="butt"/>
<text class="t" x="489.00" y="321.90" text-anchor="end" font-size="8.3">0.8</text>
<line x1="492.60" y1="340.40" x2="495.50" y2="340.40" stroke="#404040" stroke-width="1.0" stroke-linecap="butt"/>
<text class="t" x="489.00" y="344.00" text-anchor="end" font-size="8.3">0.6</text>
<line x1="508.50" y1="351.30" x2="536.50" y2="351.30" stroke="#404040" stroke-width="1.0" stroke-linecap="butt"/>
<line x1="509.00" y1="351.30" x2="509.00" y2="353.70" stroke="#404040" stroke-width="1.0" stroke-linecap="butt"/>
<text class="t" x="509.00" y="364.00" text-anchor="middle" font-size="8.3">pre</text>
<line x1="536.00" y1="351.30" x2="536.00" y2="353.70" stroke="#404040" stroke-width="1.0" stroke-linecap="butt"/>
<text class="t" x="536.00" y="364.00" text-anchor="middle" font-size="8.3">post</text>
<text class="t" x="522.50" y="375.60" text-anchor="middle" font-size="8.3">Sham</text>
<text class="t" x="521.20" y="214.60" text-anchor="middle" font-size="9.7">*</text>
<line x1="509.00" y1="285.80" x2="536.00" y2="275.00" stroke="#787878" stroke-width="1.6" stroke-linecap="round"/>
<line x1="509.00" y1="285.80" x2="536.00" y2="283.50" stroke="#787878" stroke-width="1.6" stroke-linecap="round"/>
<line x1="509.00" y1="313.50" x2="536.00" y2="306.20" stroke="#787878" stroke-width="1.6" stroke-linecap="round"/>
<line x1="509.00" y1="218.00" x2="536.00" y2="247.40" stroke="#0000ff" stroke-width="1.6" stroke-linecap="round"/>
<line x1="509.00" y1="257.40" x2="536.00" y2="262.40" stroke="#0000ff" stroke-width="1.6" stroke-linecap="round"/>
<line x1="509.00" y1="285.80" x2="536.00" y2="312.50" stroke="#0000ff" stroke-width="1.6" stroke-linecap="round"/>
<line x1="509.00" y1="296.50" x2="536.00" y2="317.50" stroke="#0000ff" stroke-width="1.6" stroke-linecap="round"/>
<line x1="509.00" y1="297.50" x2="536.00" y2="312.50" stroke="#0000ff" stroke-width="1.6" stroke-linecap="round"/>
<line x1="509.00" y1="298.50" x2="536.00" y2="342.50" stroke="#0000ff" stroke-width="1.6" stroke-linecap="round"/>
<line x1="509.00" y1="304.00" x2="536.00" y2="328.00" stroke="#0000ff" stroke-width="1.6" stroke-linecap="round"/>
<line x1="509.00" y1="304.00" x2="536.00" y2="326.50" stroke="#0000ff" stroke-width="1.6" stroke-linecap="round"/>
<line x1="509.00" y1="315.20" x2="536.00" y2="326.50" stroke="#0000ff" stroke-width="1.6" stroke-linecap="round"/>
<line x1="509.00" y1="324.20" x2="536.00" y2="334.80" stroke="#0000ff" stroke-width="1.6" stroke-linecap="round"/>
<line x1="509.00" y1="332.50" x2="536.00" y2="333.00" stroke="#0000ff" stroke-width="1.6" stroke-linecap="round"/>
<line x1="509.00" y1="332.50" x2="536.00" y2="336.50" stroke="#0000ff" stroke-width="1.6" stroke-linecap="round"/>
<line x1="509.00" y1="339.50" x2="536.00" y2="347.50" stroke="#0000ff" stroke-width="1.6" stroke-linecap="round"/>
<circle cx="509.00" cy="285.80" r="1.6" fill="#787878"/>
<circle cx="536.00" cy="275.00" r="1.6" fill="#787878"/>
<circle cx="509.00" cy="285.80" r="1.6" fill="#787878"/>
<circle cx="536.00" cy="283.50" r="1.6" fill="#787878"/>
<circle cx="509.00" cy="313.50" r="1.6" fill="#787878"/>
<circle cx="536.00" cy="306.20" r="1.6" fill="#787878"/>
<circle cx="509.00" cy="218.00" r="1.6" fill="#0000ff"/>
<circle cx="536.00" cy="247.40" r="1.6" fill="#0000ff"/>
<circle cx="509.00" cy="257.40" r="1.6" fill="#0000ff"/>
<circle cx="536.00" cy="262.40" r="1.6" fill="#0000ff"/>
<circle cx="509.00" cy="285.80" r="1.6" fill="#0000ff"/>
<circle cx="536.00" cy="312.50" r="1.6" fill="#0000ff"/>
<circle cx="509.00" cy="296.50" r="1.6" fill="#0000ff"/>
<circle cx="536.00" cy="317.50" r="1.6" fill="#0000ff"/>
<circle cx="509.00" cy="297.50" r="1.6" fill="#0000ff"/>
<circle cx="536.00" cy="312.50" r="1.6" fill="#0000ff"/>
<circle cx="509.00" cy="298.50" r="1.6" fill="#0000ff"/>
<circle cx="536.00" cy="342.50" r="1.6" fill="#0000ff"/>
<circle cx="509.00" cy="304.00" r="1.6" fill="#0000ff"/>
<circle cx="536.00" cy="328.00" r="1.6" fill="#0000ff"/>
<circle cx="509.00" cy="304.00" r="1.6" fill="#0000ff"/>
<circle cx="536.00" cy="326.50" r="1.6" fill="#0000ff"/>
<circle cx="509.00" cy="315.20" r="1.6" fill="#0000ff"/>
<circle cx="536.00" cy="326.50" r="1.6" fill="#0000ff"/>
<circle cx="509.00" cy="324.20" r="1.6" fill="#0000ff"/>
<circle cx="536.00" cy="334.80" r="1.6" fill="#0000ff"/>
<circle cx="509.00" cy="332.50" r="1.6" fill="#0000ff"/>
<circle cx="536.00" cy="333.00" r="1.6" fill="#0000ff"/>
<circle cx="509.00" cy="332.50" r="1.6" fill="#0000ff"/>
<circle cx="536.00" cy="336.50" r="1.6" fill="#0000ff"/>
<circle cx="509.00" cy="339.50" r="1.6" fill="#0000ff"/>
<circle cx="536.00" cy="347.50" r="1.6" fill="#0000ff"/>
</svg>
</body></html>
